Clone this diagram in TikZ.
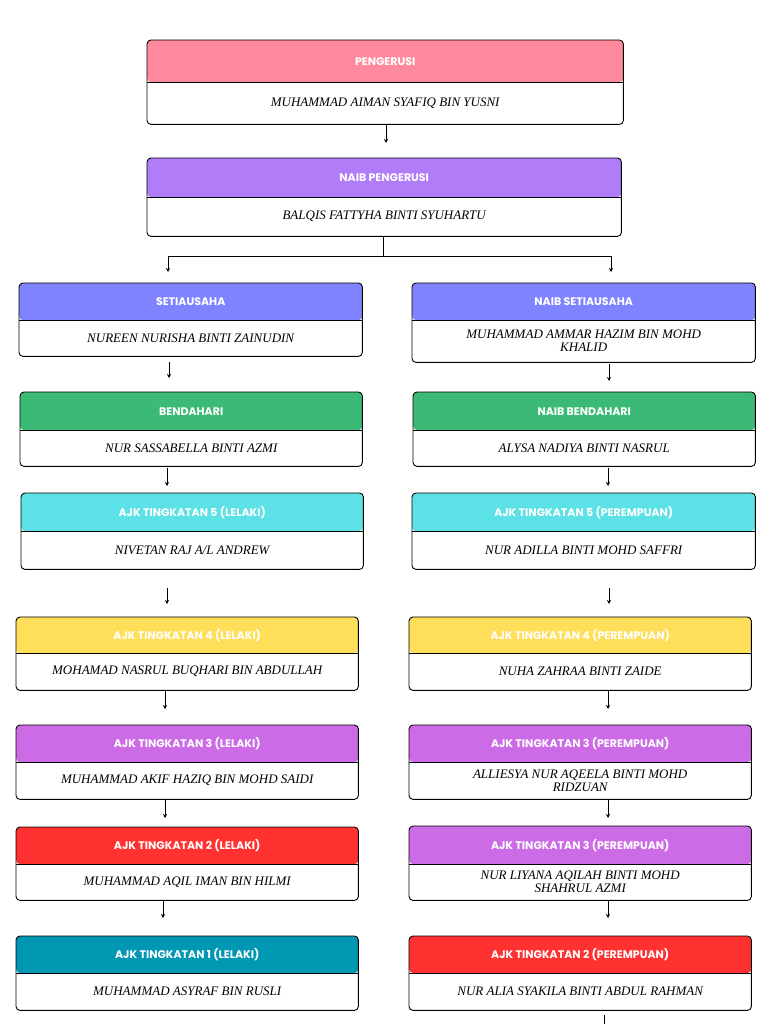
\documentclass[tikz,border=0pt]{standalone}
\usepackage{fontspec}
\setmainfont{Liberation Serif}
\newfontfamily\hfont{Poppins}
\usetikzlibrary{arrows.meta}
\definecolor{cpink}{HTML}{FF8A9D}
\definecolor{cpurp}{HTML}{B07CF7}
\definecolor{cblue}{HTML}{7F83FF}
\definecolor{cgreen}{HTML}{3BBA76}
\definecolor{ccyan}{HTML}{5CE1E6}
\definecolor{cyell}{HTML}{FFDE59}
\definecolor{cviol}{HTML}{CB6CE6}
\definecolor{cred}{HTML}{FF3131}
\definecolor{cteal}{HTML}{0097B2}
\tikzset{
 hdr/.style={anchor=north west, inner sep=0pt, rounded corners=4pt, text=white, font=\hfont\bfseries\fontsize{11}{12}\selectfont},
 nm/.style={anchor=north west, inner sep=0pt, align=center, font=\itshape\fontsize{13}{13}\selectfont},
 frame/.style={draw=black, line width=0.9pt, rounded corners=4pt},
 arr/.style={-{Stealth[length=4pt,width=4pt]}, line width=0.8pt}
}
% #1 name #2 x1 #3 x2 #4 ytop #5 ymid #6 ybot #7 color #8 title #9 person
\newcommand\ob[9]{%
 \node[hdr, fill=#7, minimum width={#3pt-#2pt}, minimum height={#5pt-#4pt}] (#1h) at (#2,#4) {#8};
 \node[nm, minimum width={#3pt-#2pt}, minimum height={#6pt-#5pt}] (#1n) at (#2,#5) {#9};
 \draw[line width=0.9pt] (#1h.south west) -- (#1h.south east);
 \draw[frame] (#1h.north west) rectangle (#1n.south east);
}
\begin{document}
\begin{tikzpicture}[x=1pt,y=-1pt]
\useasboundingbox[fill=white] (0,0) rectangle (768,1024);
\ob{p}{147}{623}{40}{82}{124}{cpink}{PENGERUSI}{MUHAMMAD AIMAN SYAFIQ BIN YUSNI}
\ob{np}{147}{621}{158}{197}{236}{cpurp}{NAIB PENGERUSI}{BALQIS FATTYHA BINTI SYUHARTU}
\ob{s}{19}{362}{283}{320}{356}{cblue}{SETIAUSAHA}{NUREEN NURISHA BINTI ZAINUDIN}
\ob{ns}{412}{755}{283}{320}{362}{cblue}{NAIB SETIAUSAHA}{MUHAMMAD AMMAR HAZIM BIN MOHD\\KHALID}
\ob{b}{20}{362}{392}{430}{466}{cgreen}{BENDAHARI}{NUR SASSABELLA BINTI AZMI}
\ob{nb}{413}{755}{392}{430}{466}{cgreen}{NAIB BENDAHARI}{ALYSA NADIYA BINTI NASRUL}
\ob{l5}{21}{363}{493}{531}{569}{ccyan}{AJK TINGKATAN 5 (LELAKI)}{NIVETAN RAJ A/L ANDREW}
\ob{r5}{412}{755}{493}{531}{569}{ccyan}{AJK TINGKATAN 5 (PEREMPUAN)}{NUR ADILLA BINTI MOHD SAFFRI}
\ob{l4}{16}{358}{617}{653}{690}{cyell}{AJK TINGKATAN 4 (LELAKI)}{MOHAMAD NASRUL BUQHARI BIN ABDULLAH}
\ob{r4}{409}{751}{617}{653}{690}{cyell}{AJK TINGKATAN 4 (PEREMPUAN)}{NUHA ZAHRAA BINTI ZAIDE}
\ob{l3}{16}{358}{725}{762}{799}{cviol}{AJK TINGKATAN 3 (LELAKI)}{MUHAMMAD AKIF HAZIQ BIN MOHD SAIDI}
\ob{r3}{409}{751}{725}{762}{799}{cviol}{AJK TINGKATAN 3 (PEREMPUAN)}{ALLIESYA NUR AQEELA BINTI MOHD\\RIDZUAN}
\ob{l2}{16}{358}{827}{864}{900}{cred}{AJK TINGKATAN 2 (LELAKI)}{MUHAMMAD AQIL IMAN BIN HILMI}
\ob{r3b}{409}{751}{826}{864}{900}{cviol}{AJK TINGKATAN 3 (PEREMPUAN)}{NUR LIYANA AQILAH BINTI MOHD\\SHAHRUL AZMI}
\ob{l1}{16}{358}{936}{973}{1010}{cteal}{AJK TINGKATAN 1 (LELAKI)}{MUHAMMAD ASYRAF BIN RUSLI}
\ob{r2}{409}{751}{936}{973}{1010}{cred}{AJK TINGKATAN 2 (PEREMPUAN)}{NUR ALIA SYAKILA BINTI ABDUL RAHMAN}
\coordinate (j) at (383,256);
\coordinate (jl) at (168,256);
\coordinate (jr) at (611,256);
\draw[arr] (386,124) -- (386,143);
\draw[line width=0.8pt] (383,236) -- (j);
\draw[line width=0.8pt] (jl) -- (jr);
\draw[arr] (jl) -- (168,272);
\draw[arr] (jr) -- (611,272);
\draw[arr] (169,362) -- (169,378);
\draw[arr] (609,364) -- (609,381);
\draw[arr] (167,468) -- (167,486);
\draw[arr] (608,468) -- (608,486);
\draw[arr] (167,588) -- (167,604);
\draw[arr] (609,588) -- (609,604);
\draw[arr] (165,690) -- (165,709);
\draw[arr] (608,690) -- (608,709);
\draw[arr] (165,799) -- (165,818);
\draw[arr] (608,799) -- (608,818);
\draw[arr] (163,901) -- (163,918);
\draw[arr] (608,900) -- (608,918);
\draw[line width=0.8pt] (604,1015) -- (604,1024);
\end{tikzpicture}
\end{document}
